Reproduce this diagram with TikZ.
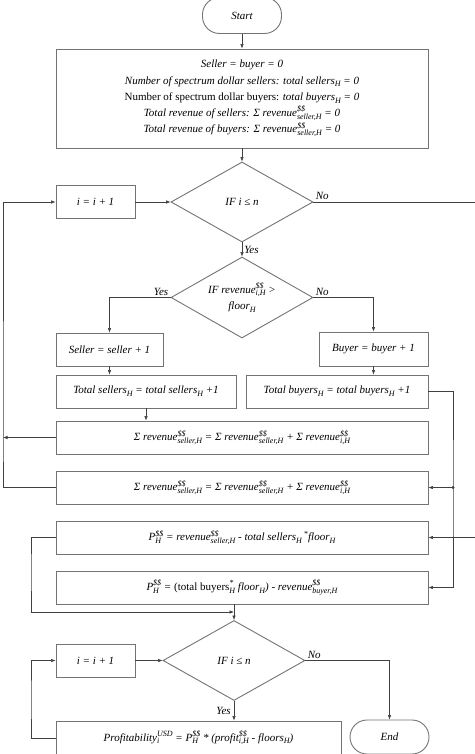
\documentclass[tikz,border=0pt]{standalone}
\usepackage{fontspec}
\setmainfont{Liberation Serif}
\usetikzlibrary{shapes.geometric,arrows.meta}
\newcommand\idxfont{\fontsize{8}{8}\selectfont}
\newcommand\supsub[2]{{\idxfont\setbox0=\hbox{\raisebox{1.25ex}{#1}}\setbox2=\hbox{\raisebox{-0.75ex}{#2}}\ifdim\wd0>\wd2 \rlap{\box2}\box0\else\rlap{\box0}\box2\fi}}
\newcommand\sbs[1]{{\idxfont\raisebox{-0.75ex}{#1}}}
\begin{document}
\begin{tikzpicture}[x=1pt,y=-1pt,
    font=\itshape\fontsize{11}{16.2}\selectfont,
    box/.style={draw=black!55,line width=0.9pt,inner sep=0pt,minimum height=33pt},
    term/.style={box,rounded corners=17pt,minimum width=79pt,minimum height=34pt},
    cond/.style={draw=black!55,line width=0.9pt,diamond,inner sep=0pt,aspect=1.775,
      minimum width=142pt,minimum height=80pt},
    line/.style={draw=black!75,line width=0.6pt},
    >={Latex[length=4.5pt,width=3.5pt]}]
      \useasboundingbox (0,0) rectangle (474,754);
      \draw
        (242,15.5) node[term,minimum height=36pt] (start){Start}
        (242,98.5) node[box,minimum width=372pt,minimum height=99pt,align=center] (init){Seller = buyer = 0\\
          Number of spectrum dollar sellers: total sellers\sbs{H} = 0\\
          {\upshape Number of spectrum dollar buyers:} total buyers\sbs{H} = 0\\
          Total revenue of sellers: Σ revenue\supsub{\$\$}{seller,H} = 0\\
          Total revenue of buyers: Σ revenue\supsub{\$\$}{seller,H} = 0}
        (95.5,202) node[box,minimum width=79pt] (inc1){i = i + 1}
        (242,202) node[cond] (if1){IF i ≤ n}
        (242,297.5) node[cond,minimum height=81pt,align=center] (if2){IF revenue\supsub{\$\$}{i,H} >\\floor\sbs{H}}
        (109.5,349.5) node[box,minimum width=107pt] (sel){Seller = seller + 1}
        (373.5,349) node[box,minimum width=109pt,minimum height=34pt] (buy){Buyer = buyer + 1}
        (146,391.5) node[box,minimum width=180pt] (tsel){Total sellers\sbs{H} = total sellers\sbs{H} +1}
        (337,391.5) node[box,minimum width=182pt] (tbuy){Total buyers\sbs{H} = total buyers\sbs{H} +1}
        (242,437.5) node[box,minimum width=372pt] (sum1){Σ revenue\supsub{\$\$}{seller,H} = Σ revenue\supsub{\$\$}{seller,H} + Σ revenue\supsub{\$\$}{i,H}}
        (242,487.5) node[box,minimum width=372pt] (sum2){Σ revenue\supsub{\$\$}{seller,H} = Σ revenue\supsub{\$\$}{seller,H} + Σ revenue\supsub{\$\$}{i,H}}
        (242,537.5) node[box,minimum width=372pt] (psel){P\supsub{\$\$}{H} = revenue\supsub{\$\$}{seller,H} - total sellers\sbs{H}\,\textsuperscript{*}floor\sbs{H}}
        (242,587.5) node[box,minimum width=372pt] (pbuy){P\supsub{\$\$}{H} = {\upshape (total buyers}\supsub{*}{H} floor\sbs{H}) - revenue\supsub{\$\$}{buyer,H}}
        (95.5,660.5) node[box,minimum width=79pt] (inc2){i = i + 1}
        (234,660.5) node[cond] (if3){IF i ≤ n}
        (198.5,738) node[box,minimum width=285pt,minimum height=34pt] (prof){Profitability\supsub{USD}{i} = P\supsub{\$\$}{H} * (profit\supsub{\$\$}{i,H} - floors\sbs{H})}
        (389.5,737) node[term] (end){End};
      \coordinate (rout) at (480,400);
      \coordinate (lj) at (3,437.5);
      \coordinate (bj) at (453,487.5);
      \coordinate (lk) at (31,570);
      \coordinate (mj) at (234,612);
      \coordinate (lm) at (31,700);
      \begin{scope}[line,->]
        \draw (start) to (init);
        \draw (init) to (if1);
        \draw (inc1) to (if1);
        \draw (if1) to node[right,inner sep=2pt]{Yes} (if2);
        \draw (if1.east) node[above right,inner sep=2pt]{No} -| (rout) |- (psel.east);
        \draw (if2.west) node[above left,inner sep=2pt]{Yes} -| (sel.north);
        \draw (if2.east) node[above right,inner sep=2pt]{No} -| (buy.north);
        \draw (sel.south) to (sel.south |- tsel.north);
        \draw (buy.south) to (buy.south |- tbuy.north);
        \draw (tsel.south) to (tsel.south |- sum1.north);
        \draw (sum1.west) to (lj);
        \draw (sum2.west) -| (lj) |- (inc1.west);
        \draw (tbuy.east) -| (bj) |- (pbuy.east);
        \draw (bj) to (sum2.east);
        \draw (psel.west) -| (lk) |- (mj);
        \draw (pbuy.south -| if3.north) to (if3.north);
        \draw (inc2) to (if3);
        \draw (if3.south) to node[left,inner sep=3pt]{Yes} (if3.south |- prof.north);
        \draw (if3.east) node[above right,inner sep=2pt]{No} -| (end.north);
        \draw (prof.west) -| (lm) |- (inc2.west);
      \end{scope}
      \fill[black!75] (bj) circle (1.6pt);
    \end{tikzpicture}
\end{document}
